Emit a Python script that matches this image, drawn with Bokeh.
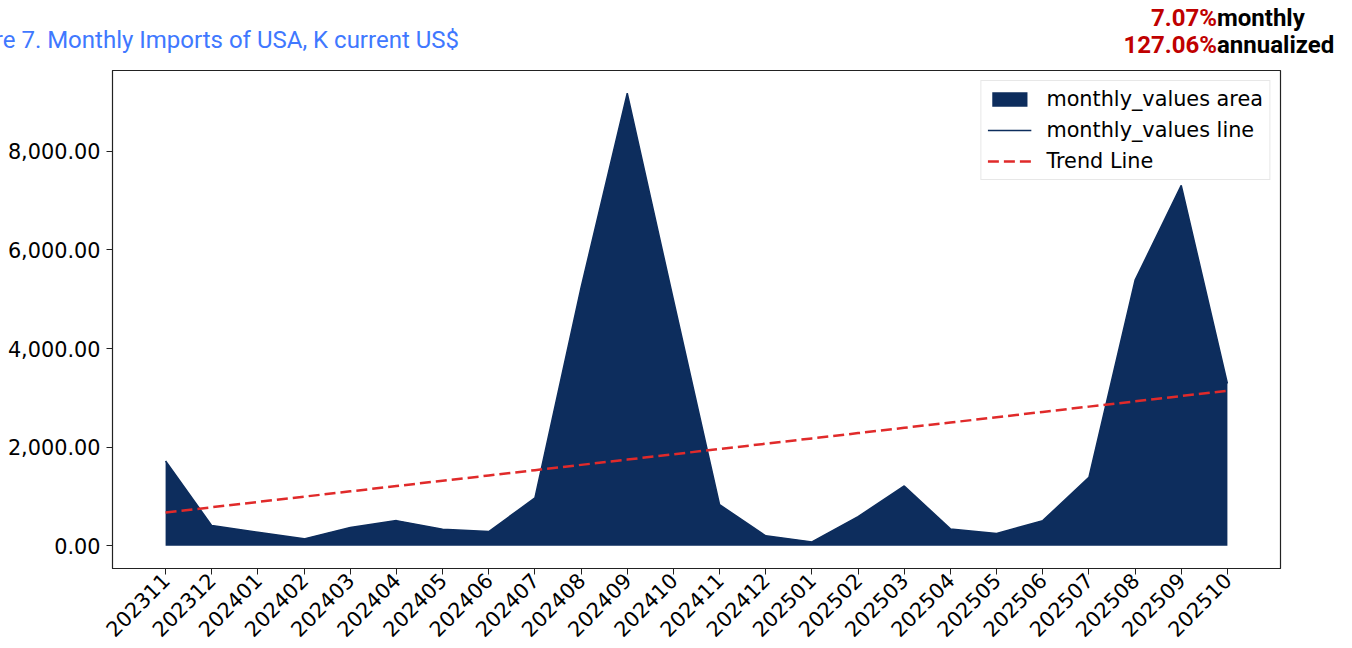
import numpy as np
from bokeh.plotting import figure
from bokeh.layouts import column
from bokeh.models import (Range1d, FixedTicker, NumeralTickFormatter, Legend,
                          LegendItem, Div)
from bokeh.embed import file_html
from bokeh.resources import INLINE

# ---- data ----
periods = ["202311", "202312", "202401", "202402", "202403", "202404",
           "202405", "202406", "202407", "202408", "202409", "202410",
           "202411", "202412", "202501", "202502", "202503", "202504",
           "202505", "202506", "202507", "202508", "202509", "202510"]
monthly_values = [1721, 411, 275, 142, 371, 512, 336, 290, 972, 5240, 9180,
                  4990, 836, 203, 81, 593, 1215, 344, 249, 512, 1389, 5387,
                  7311, 3293]
y_ticks = [0, 2000, 4000, 6000, 8000]
title_text = "Figure 7. Monthly Imports of USA, K current US$"
monthly_rate = "7.07%"
annual_rate = "127.06%"

NAVY = "#0d2d5d"
RED = "#e02a2a"
W = 1350
HEAD_H = 62
MAIN_H = 586

x = list(range(len(periods)))
slope, intercept = np.polyfit(x, monthly_values, 1)
trend = [slope * xi + intercept for xi in x]

n = len(periods)
xpad = (n - 1) * 0.05
ymax = max(monthly_values)
ypad = ymax * 0.05

# ---- header: title and growth annotation ----
span = "position:absolute;white-space:nowrap;line-height:24px;font-family:Roboto;font-size:24px;"
head_html = (
    f'<div style="position:relative;width:{W}px;height:{HEAD_H}px;">'
    f'<span style="{span}right:{W - 459}px;top:28px;color:#4078ff;">{title_text}</span>'
    f'<span style="{span}right:{W - 1217}px;top:6px;font-weight:bold;color:#c00000;">{monthly_rate}</span>'
    f'<span style="{span}left:1217px;top:6px;font-weight:bold;color:#000000;">monthly</span>'
    f'<span style="{span}right:{W - 1217}px;top:33px;font-weight:bold;color:#c00000;">{annual_rate}</span>'
    f'<span style="{span}left:1217px;top:33px;font-weight:bold;color:#000000;">annualized</span>'
    '</div>'
)
head = Div(text=head_html, width=W, height=HEAD_H, margin=0)

# ---- main chart ----
p = figure(width=W, height=MAIN_H, output_backend="svg", toolbar_location=None,
           x_range=Range1d(-xpad, n - 1 + xpad),
           y_range=Range1d(-ypad, ymax + ypad),
           min_border_left=112, min_border_right=W - 1280, min_border_top=8,
           min_border_bottom=80)
p.grid.visible = False
p.outline_line_color = "#222222"
p.outline_line_width = 1.2
p.background_fill_color = "white"
p.border_fill_color = "white"

area = p.varea(x=x, y1=0, y2=monthly_values, fill_color=NAVY)
line = p.line(x, monthly_values, line_color=NAVY, line_width=1.5)
tl = p.line(x, trend, line_color=RED, line_width=2.5, line_dash="11 5")

p.xaxis.ticker = FixedTicker(ticks=x)
p.xaxis.major_label_overrides = {i: s for i, s in enumerate(periods)}
p.xaxis.major_label_orientation = np.pi / 4
p.yaxis.ticker = FixedTicker(ticks=y_ticks)
p.yaxis.formatter = NumeralTickFormatter(format="0,0.00")
for ax in (p.xaxis[0], p.yaxis[0]):
    ax.minor_tick_line_color = None
    ax.major_tick_in = 0
    ax.major_tick_out = 6
    ax.major_tick_line_color = "#222222"
    ax.axis_line_color = "#222222"
    ax.major_label_text_font = "DejaVu Sans"
    ax.major_label_text_color = "black"
    ax.major_label_text_font_size = "20.8px"
p.yaxis.major_label_standoff = 6
p.xaxis.major_label_standoff = 2

legend = Legend(items=[LegendItem(label="monthly_values area", renderers=[area]),
                       LegendItem(label="monthly_values line", renderers=[line]),
                       LegendItem(label="Trend Line", renderers=[tl])],
                location="top_right", label_text_font="DejaVu Sans",
                label_text_font_size="20.8px", label_text_color="black",
                glyph_width=44, glyph_height=18,
                label_standoff=15, spacing=7, padding=6, margin=10,
                border_line_color="#d0d0d0", border_line_width=1,
                background_fill_alpha=0.8)
p.add_layout(legend)

layout = column(head, p, spacing=0)
open("out.html", "w").write(file_html(layout, INLINE))
